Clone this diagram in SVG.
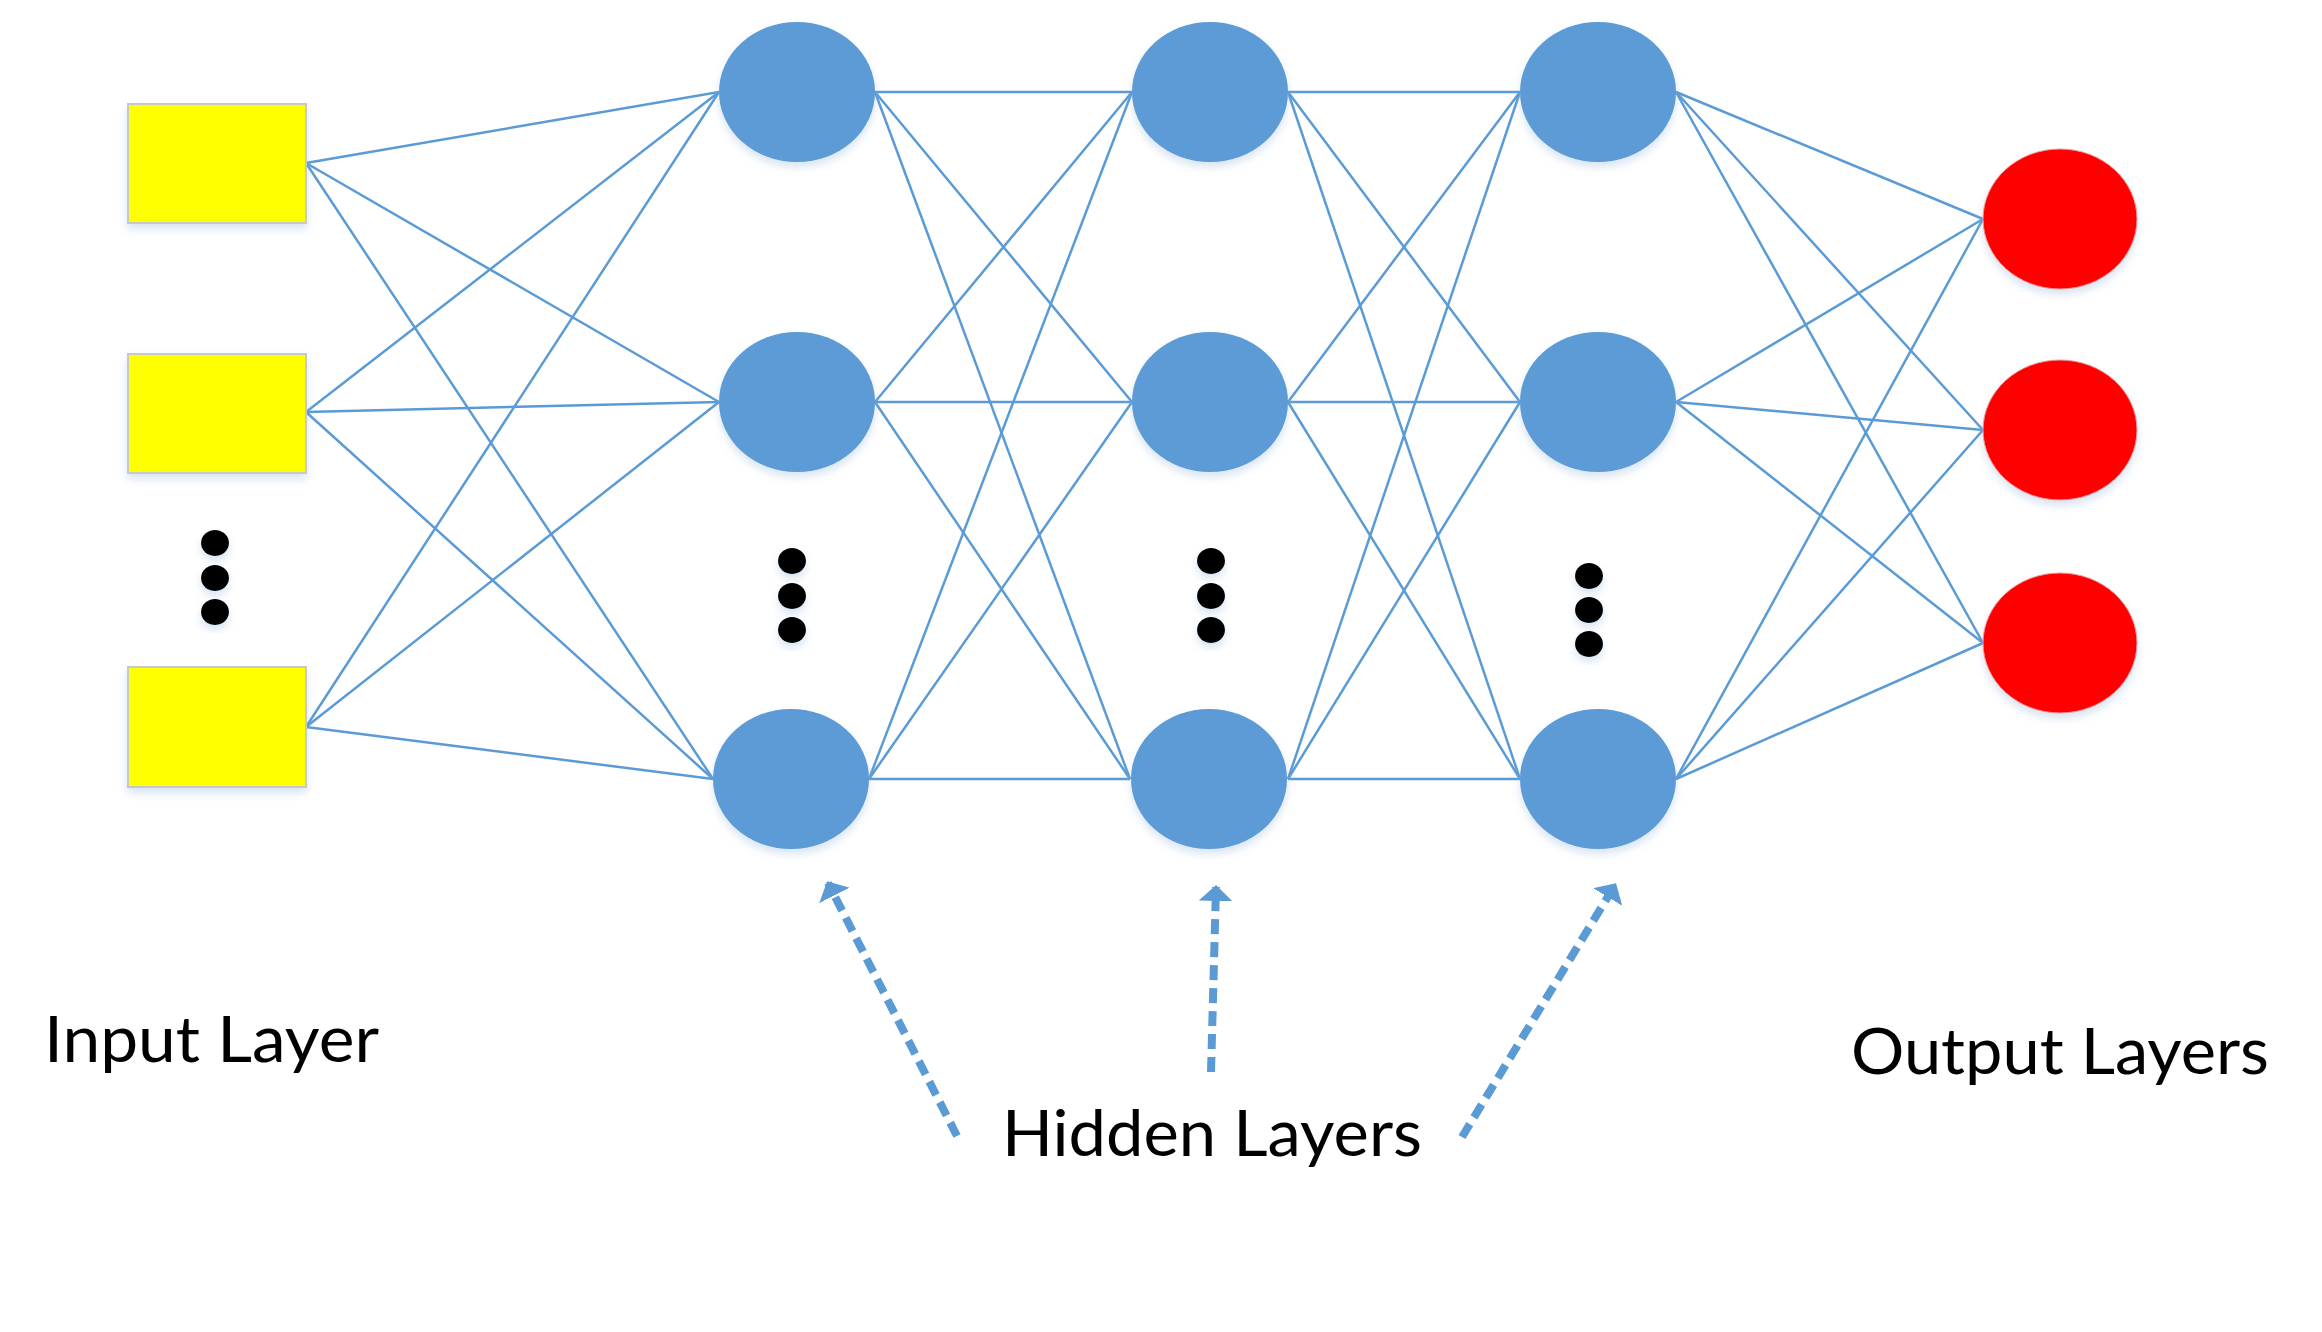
<svg xmlns="http://www.w3.org/2000/svg" width="2322" height="1332" viewBox="0 0 2322 1332">
<style>
.bg{fill:#ffffff}
.inp{fill:#ffff00;stroke:#c8c8c8;stroke-width:2;filter:url(#sh)}
.hid{fill:#5b9bd5;filter:url(#sh)}
.out{fill:#ff0000;stroke:#e8a0a0;stroke-width:1;filter:url(#sh)}
.dot{fill:#000000;filter:url(#sh)}
.edge{stroke:#5b9bd5;stroke-width:2.5;fill:none}
.ptr{stroke:#5b9bd5;stroke-width:8;stroke-dasharray:15 8;fill:none;marker-end:url(#ah)}
.lbl{font-family:Lato,"Liberation Sans",sans-serif;font-size:64px;fill:#000000}
</style>
<defs>
<filter id="sh" x="-20%" y="-20%" width="140%" height="150%">
<feDropShadow dx="0" dy="5" stdDeviation="4" flood-color="#8fb0d8" flood-opacity="0.35"/>
</filter>
<marker id="ah" viewBox="0 0 16 34" refX="14" refY="17" markerWidth="16" markerHeight="34" markerUnits="userSpaceOnUse" orient="auto">
<path d="M0,0 L16,17 L0,34 z" fill="#5b9bd5"/>
</marker>
</defs>
<rect class="bg" x="0" y="0" width="2322" height="1332"/>
<g id="connectors">
<line class="edge" x1="306" y1="163" x2="719" y2="92"/>
<line class="edge" x1="306" y1="163" x2="719" y2="402"/>
<line class="edge" x1="306" y1="163" x2="713" y2="779"/>
<line class="edge" x1="306" y1="412" x2="719" y2="92"/>
<line class="edge" x1="306" y1="412" x2="719" y2="402"/>
<line class="edge" x1="306" y1="412" x2="713" y2="779"/>
<line class="edge" x1="306" y1="727" x2="719" y2="92"/>
<line class="edge" x1="306" y1="727" x2="719" y2="402"/>
<line class="edge" x1="306" y1="727" x2="713" y2="779"/>
<line class="edge" x1="875" y1="92" x2="1132" y2="92"/>
<line class="edge" x1="875" y1="92" x2="1132" y2="402"/>
<line class="edge" x1="875" y1="92" x2="1130" y2="779"/>
<line class="edge" x1="875" y1="402" x2="1132" y2="92"/>
<line class="edge" x1="875" y1="402" x2="1132" y2="402"/>
<line class="edge" x1="875" y1="402" x2="1130" y2="779"/>
<line class="edge" x1="869" y1="779" x2="1132" y2="92"/>
<line class="edge" x1="869" y1="779" x2="1132" y2="402"/>
<line class="edge" x1="869" y1="779" x2="1130" y2="779"/>
<line class="edge" x1="1288" y1="92" x2="1520" y2="92"/>
<line class="edge" x1="1288" y1="92" x2="1520" y2="402"/>
<line class="edge" x1="1288" y1="92" x2="1520" y2="779"/>
<line class="edge" x1="1288" y1="402" x2="1520" y2="92"/>
<line class="edge" x1="1288" y1="402" x2="1520" y2="402"/>
<line class="edge" x1="1288" y1="402" x2="1520" y2="779"/>
<line class="edge" x1="1288" y1="779" x2="1520" y2="92"/>
<line class="edge" x1="1288" y1="779" x2="1520" y2="402"/>
<line class="edge" x1="1288" y1="779" x2="1520" y2="779"/>
<line class="edge" x1="1676" y1="92" x2="1983" y2="219"/>
<line class="edge" x1="1676" y1="92" x2="1983" y2="430"/>
<line class="edge" x1="1676" y1="92" x2="1983" y2="643"/>
<line class="edge" x1="1676" y1="402" x2="1983" y2="219"/>
<line class="edge" x1="1676" y1="402" x2="1983" y2="430"/>
<line class="edge" x1="1676" y1="402" x2="1983" y2="643"/>
<line class="edge" x1="1676" y1="779" x2="1983" y2="219"/>
<line class="edge" x1="1676" y1="779" x2="1983" y2="430"/>
<line class="edge" x1="1676" y1="779" x2="1983" y2="643"/>
</g>
<g id="input-layer">
<rect id="in1" class="inp" x="128" y="104" width="178" height="119"/>
<rect id="in2" class="inp" x="128" y="354" width="178" height="119"/>
<rect id="in3" class="inp" x="128" y="667" width="178" height="120"/>
<g id="in-dots"><ellipse class="dot" cx="215" cy="543" rx="14" ry="13"/><ellipse class="dot" cx="215" cy="578" rx="14" ry="13"/><ellipse class="dot" cx="215" cy="612" rx="14" ry="13"/></g>
</g>
<g id="hidden-1">
<ellipse id="h1a" class="hid" cx="797" cy="92" rx="78" ry="70"/>
<ellipse id="h1b" class="hid" cx="797" cy="402" rx="78" ry="70"/>
<ellipse id="h1c" class="hid" cx="791" cy="779" rx="78" ry="70"/>
<g id="h1-dots"><ellipse class="dot" cx="792" cy="561" rx="14" ry="13"/><ellipse class="dot" cx="792" cy="596" rx="14" ry="13"/><ellipse class="dot" cx="792" cy="630" rx="14" ry="13"/></g>
</g>
<g id="hidden-2">
<ellipse id="h2a" class="hid" cx="1210" cy="92" rx="78" ry="70"/>
<ellipse id="h2b" class="hid" cx="1210" cy="402" rx="78" ry="70"/>
<ellipse id="h2c" class="hid" cx="1209" cy="779" rx="78" ry="70"/>
<g id="h2-dots"><ellipse class="dot" cx="1211" cy="561" rx="14" ry="13"/><ellipse class="dot" cx="1211" cy="596" rx="14" ry="13"/><ellipse class="dot" cx="1211" cy="630" rx="14" ry="13"/></g>
</g>
<g id="hidden-3">
<ellipse id="h3a" class="hid" cx="1598" cy="92" rx="78" ry="70"/>
<ellipse id="h3b" class="hid" cx="1598" cy="402" rx="78" ry="70"/>
<ellipse id="h3c" class="hid" cx="1598" cy="779" rx="78" ry="70"/>
<g id="h3-dots"><ellipse class="dot" cx="1589" cy="576" rx="14" ry="13"/><ellipse class="dot" cx="1589" cy="610" rx="14" ry="13"/><ellipse class="dot" cx="1589" cy="644" rx="14" ry="13"/></g>
</g>
<g id="output-layer">
<ellipse id="o1" class="out" cx="2060" cy="219" rx="77" ry="70"/>
<ellipse id="o2" class="out" cx="2060" cy="430" rx="77" ry="70"/>
<ellipse id="o3" class="out" cx="2060" cy="643" rx="77" ry="70"/>
</g>
<g id="pointers">
<line class="ptr" x1="957" y1="1136" x2="828" y2="883"/>
<line class="ptr" x1="1211" y1="1072" x2="1216" y2="887"/>
<line class="ptr" x1="1462" y1="1137" x2="1615" y2="885"/>
</g>
<g id="labels">
<text id="lbl-input" class="lbl" x="44" y="1062" textLength="335" lengthAdjust="spacingAndGlyphs">Input Layer</text>
<text id="lbl-hidden" class="lbl" x="1002" y="1156" textLength="420" lengthAdjust="spacingAndGlyphs">Hidden Layers</text>
<text id="lbl-output" class="lbl" x="1851" y="1074" textLength="418" lengthAdjust="spacingAndGlyphs">Output Layers</text>
</g>
</svg>
